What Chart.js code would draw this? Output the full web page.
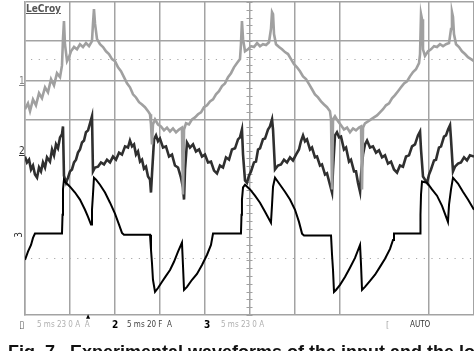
<!DOCTYPE html>
<html>
<head>
<meta charset="utf-8">
<script src="https://cdn.jsdelivr.net/npm/chart.js@4.4.1/dist/chart.umd.min.js"></script>
<style>
  html, body { margin: 0; padding: 0; background: #fff; overflow: hidden; }
  #wrap { position: relative; width: 474px; height: 351px; overflow: hidden; }
  #scope { position: absolute; left: 0; top: 0; }
  .t { position: absolute; white-space: pre; font-family: "DejaVu Sans Condensed", "Liberation Sans Narrow", "DejaVu Sans", sans-serif; line-height: 1; }
</style>
</head>
<body>
<div id="wrap">
  <canvas id="scope" width="474" height="351"></canvas>
  <div id="labels"></div>
</div>
<script>
// ======================
// SCOPE DATA (time in ms, level in divisions)
// ======================
const timeRange = [0, 50];      // 10 div x 5 ms
const levelRange = [0, 8];      // 8 vertical divisions
const groundLevels = [6.54, 1.46];

// channel 1 (light grey)
const ch1 = [
  [0,5.26],[0.33,5.41],[0.56,5.21],[0.89,5.51],[1.22,5.36],[1.56,5.67],[1.89,5.54],[2.23,5.82],[2.56,5.69],[2.90,6.03],
  [3.23,5.87],[3.56,6.18],[3.90,6.08],[4.12,6.38],[4.23,7.05],[4.34,7.51],[4.45,6.92],[4.68,6.49],[4.90,6.59],[5.12,6.74],
  [5.46,6.85],[5.79,6.79],[6.12,6.92],[6.46,6.85],[6.79,6.95],[7.13,6.87],[7.46,7.00],[7.57,7.44],[7.68,7.82],[7.80,7.44],
  [8.02,7.05],[8.35,6.92],[8.69,6.85],[9.02,6.74],[9.35,6.67],[9.69,6.54],[10.02,6.49],[10.36,6.33],[10.69,6.23],[11.02,6.08],
  [11.36,5.92],[11.69,5.82],[12.03,5.64],[12.36,5.56],[12.70,5.44],[13.03,5.38],[13.36,5.31],[13.70,5.21],[13.92,5.13],[14.03,4.87],
  [14.14,4.36],[14.25,4.87],[14.48,5.00],[14.81,4.87],[15.14,4.82],[15.48,4.72],[15.81,4.79],[16.15,4.69],[16.48,4.77],[16.82,4.67],
  [17.15,4.74],[17.48,4.79],[17.59,3.08],[17.71,4.74],[17.93,4.90],[18.26,4.87],[18.60,5.00],[18.93,5.05],[19.27,5.13],[19.60,5.18],
  [19.93,5.31],[20.27,5.36],[20.60,5.46],[20.94,5.51],[21.27,5.64],[21.60,5.72],[21.94,5.85],[22.27,5.92],[22.61,6.08],[22.94,6.18],
  [23.27,6.33],[23.61,6.44],[23.94,6.54],[24.05,6.92],[24.16,7.51],[24.28,7.05],[24.50,6.74],[24.83,6.79],[25.17,6.87],[25.50,6.85],
  [25.84,6.95],[26.17,6.87],[26.50,6.92],[26.84,6.90],[27.17,6.97],[27.39,7.31],[27.51,7.74],[27.62,7.69],[27.73,7.18],[27.95,6.92],
  [28.29,6.85],[28.62,6.79],[28.95,6.72],[29.29,6.67],[29.62,6.54],[29.96,6.41],[30.29,6.33],[30.62,6.23],[30.96,6.10],[31.29,6.03],
  [31.63,5.90],[31.96,5.77],[32.29,5.64],[32.63,5.56],[32.96,5.46],[33.30,5.38],[33.63,5.31],[33.96,5.21],[34.08,5.00],[34.19,3.21],
  [34.30,5.00],[34.52,5.08],[34.86,4.95],[35.19,4.85],[35.52,4.74],[35.86,4.79],[36.19,4.67],[36.53,4.77],[36.86,4.72],[37.19,4.79],
  [37.42,4.82],[37.53,3.21],[37.64,4.79],[37.86,4.90],[38.20,4.95],[38.53,5.00],[38.86,5.05],[39.20,5.10],[39.53,5.18],[39.87,5.26],
  [40.20,5.36],[40.54,5.41],[40.87,5.54],[41.20,5.62],[41.54,5.72],[41.87,5.82],[42.21,5.92],[42.54,5.97],[42.87,6.10],[43.21,6.21],
  [43.54,6.28],[43.88,6.44],[43.99,6.67],[44.10,7.69],[44.21,7.56],[44.32,6.79],[44.54,6.62],[44.88,6.74],[45.21,6.79],[45.55,6.87],
  [45.88,6.85],[46.21,6.92],[46.55,6.87],[46.88,6.92],[47.22,6.95],[47.44,7.31],[47.55,7.74],[47.66,7.62],[47.77,7.18],[48.00,6.92],
  [48.33,6.85],[48.66,6.74],[49.00,6.67],[49.33,6.59],[49.67,6.54],[50.00,6.49]
];

// channel 2 (dark grey)
const ch2 = [
  [0,4.05],[0.22,3.90],[0.45,3.97],[0.67,3.72],[0.89,3.82],[1.11,3.59],[1.34,3.51],[1.56,3.77],[1.78,3.67],[2.00,3.90],
  [2.23,3.77],[2.45,4.03],[2.78,3.92],[3.01,4.23],[3.23,4.08],[3.45,4.36],[3.67,4.26],[3.90,4.54],[4.12,4.62],[4.23,4.82],
  [4.34,3.56],[4.57,3.38],[4.79,3.51],[5.01,3.67],[5.23,3.72],[5.46,3.90],[5.68,3.97],[5.90,4.15],[6.12,4.23],[6.35,4.41],
  [6.57,4.46],[6.79,4.67],[7.02,4.72],[7.24,4.90],[7.46,5.08],[7.57,3.67],[7.80,3.77],[8.13,3.79],[8.46,3.90],[8.80,3.85],
  [9.13,3.97],[9.47,3.90],[9.80,4.05],[10.13,3.97],[10.47,4.15],[10.80,4.10],[11.14,4.31],[11.47,4.28],[11.69,4.46],[11.92,4.31],
  [12.14,4.36],[12.36,4.10],[12.58,4.18],[12.81,3.92],[13.03,3.97],[13.25,3.74],[13.47,3.79],[13.70,3.54],[13.92,3.46],[14.03,3.13],
  [14.14,3.59],[14.37,4.49],[14.59,4.59],[14.81,4.44],[15.03,4.51],[15.37,4.28],[15.70,4.31],[16.04,4.05],[16.37,4.10],[16.70,3.82],
  [17.04,3.77],[17.37,3.51],[17.59,3.26],[17.71,2.95],[17.82,3.72],[18.04,4.41],[18.37,4.28],[18.71,4.36],[19.04,4.18],[19.38,4.23],
  [19.71,4.05],[20.04,4.10],[20.38,3.90],[20.71,3.92],[21.05,3.69],[21.38,3.62],[21.71,3.82],[22.05,3.77],[22.38,4.03],[22.72,3.97],
  [23.05,4.23],[23.39,4.26],[23.72,4.49],[23.94,4.54],[24.16,4.74],[24.28,4.10],[24.50,3.44],[24.72,3.38],[24.94,3.56],[25.17,3.67],
  [25.50,3.90],[25.72,3.92],[25.95,4.23],[26.17,4.26],[26.50,4.49],[26.73,4.51],[27.06,4.74],[27.28,4.82],[27.51,5.00],[27.62,4.74],
  [27.84,3.72],[28.17,3.82],[28.51,3.85],[28.84,3.97],[29.18,3.90],[29.51,4.03],[29.84,3.95],[30.18,4.10],[30.51,4.23],[30.73,4.44],
  [30.96,4.59],[31.18,4.44],[31.40,4.49],[31.74,4.23],[31.96,4.28],[32.29,4.03],[32.52,4.05],[32.85,3.82],[33.07,3.85],[33.41,3.59],
  [33.63,3.62],[33.96,3.33],[34.19,3.13],[34.30,3.72],[34.52,4.59],[34.74,4.67],[34.97,4.54],[35.19,4.56],[35.52,4.23],[35.75,4.28],
  [36.08,3.92],[36.30,3.97],[36.64,3.67],[36.86,3.67],[37.08,3.38],[37.31,3.15],[37.42,3.59],[37.64,4.10],[37.86,4.36],[38.09,4.46],
  [38.42,4.28],[38.75,4.31],[39.09,4.15],[39.42,4.21],[39.76,4.03],[40.09,4.08],[40.42,3.87],[40.76,3.92],[41.09,3.72],[41.43,3.64],
  [41.76,3.82],[42.09,3.79],[42.43,4.05],[42.76,4.08],[43.10,4.31],[43.43,4.36],[43.76,4.59],[43.99,4.69],[44.10,4.23],[44.32,3.54],
  [44.54,3.46],[44.77,3.38],[44.99,3.59],[45.21,3.72],[45.55,3.95],[45.77,3.97],[46.10,4.28],[46.33,4.31],[46.66,4.56],[46.88,4.59],
  [47.11,4.74],[47.33,4.85],[47.44,4.49],[47.66,3.67],[47.88,3.79],[48.22,3.87],[48.55,3.90],[48.89,4.03],[49.22,3.95],[49.55,4.08],
  [50.00,4.05]
];

// channel 3 (black)
const ch3 = [
  [0,1.41],[0.33,1.62],[0.67,1.79],[0.89,1.97],[1.11,2.08],[4.12,2.08],[4.18,2.56],[4.23,3.21],[4.34,3.46],[4.57,3.38],
  [5.01,3.28],[5.57,3.13],[6.12,2.95],[6.68,2.69],[7.02,2.51],[7.35,2.31],[7.46,2.69],[7.57,3.08],[7.68,3.51],[7.91,3.46],
  [8.35,3.33],[8.91,3.13],[9.47,2.87],[10.02,2.59],[10.47,2.31],[10.80,2.10],[11.02,2.05],[13.92,2.05],[14.03,1.67],[14.14,1.33],
  [14.25,0.90],[14.48,0.59],[14.81,0.69],[15.26,0.85],[15.70,1.00],[16.15,1.15],[16.59,1.36],[17.04,1.62],[17.48,1.85],[17.59,1.28],
  [17.71,0.64],[18.04,0.72],[18.60,0.90],[19.15,1.05],[19.71,1.28],[20.27,1.54],[20.71,1.79],[20.94,2.08],[24.05,2.08],[24.11,2.56],
  [24.16,2.95],[24.28,3.26],[24.50,3.33],[25.06,3.21],[25.61,3.05],[26.17,2.87],[26.73,2.64],[27.39,2.36],[27.51,2.82],[27.62,3.28],
  [27.84,3.51],[28.40,3.33],[28.95,3.15],[29.51,2.95],[30.07,2.69],[30.51,2.38],[30.85,2.08],[31.07,2.03],[34.08,2.03],[34.19,1.54],
  [34.30,1.15],[34.41,0.59],[34.63,0.64],[35.08,0.77],[35.63,0.97],[36.19,1.21],[36.75,1.46],[37.31,1.79],[37.42,1.28],[37.53,0.64],
  [37.86,0.72],[38.42,0.87],[38.98,1.03],[39.53,1.23],[40.09,1.44],[40.65,1.69],[40.98,1.92],[41.09,2.08],[43.99,2.08],[44.04,2.56],
  [44.10,3.08],[44.21,3.41],[44.77,3.38],[45.32,3.21],[45.88,3.05],[46.44,2.79],[47.10,2.38],[47.22,2.82],[47.44,3.21],[47.66,3.51],
  [48.22,3.36],[48.77,3.15],[49.33,2.95],[50.00,2.69]
];

// status line + screen labels
const statusItems = [
  { text: "\u25AF", x: 19, color: "#555", size: 10 },
  { text: "5 ms 23 0 A  A", x: 37, color: "#b0b0b0", size: 8 },
  { text: "2", x: 112, color: "#000", size: 10, bold: true },
  { text: "5 ms 20 F  A", x: 127, color: "#444", size: 8 },
  { text: "3", x: 204, color: "#000", size: 10, bold: true },
  { text: "5 ms 23 0 A", x: 221, color: "#b0b0b0", size: 8 },
  { text: "[", x: 386, color: "#aaa", size: 9 },
  { text: "AUTO", x: 410, color: "#333", size: 8 }
];
const caption = "Fig. 7.  Experimental waveforms of the input and the load.";

// ======================
// GRATICULE EXTRAS
// ======================
const graticule = {
  id: "graticule",
  beforeDatasetsDraw(chart) {
    const { ctx, chartArea: a, scales: { x, y } } = chart;
    ctx.save();
    ctx.strokeStyle = "#a8a8a8";
    ctx.lineWidth = 1.2;
    ctx.setLineDash([1.2, 6.5]);
    groundLevels.forEach(v => {
      const py = Math.round(y.getPixelForValue(v)) + 0.5;
      ctx.beginPath(); ctx.moveTo(a.left + 6, py); ctx.lineTo(a.right, py); ctx.stroke();
    });
    ctx.setLineDash([]);
    // center line minor ticks
    const cx = x.getPixelForValue((timeRange[0] + timeRange[1]) / 2);
    ctx.strokeStyle = "#a0a0a0";
    ctx.lineWidth = 1;
    for (let v = levelRange[0]; v <= levelRange[1] + 1e-6; v += 0.2) {
      const py = Math.round(y.getPixelForValue(v)) + 0.5;
      ctx.beginPath(); ctx.moveTo(cx - 3, py); ctx.lineTo(cx + 3, py); ctx.stroke();
    }
    ctx.restore();
  }
};

const toPts = arr => arr.map(p => ({ x: p[0], y: p[1] }));
const gridGrey = "#a3a3a3";

new Chart(document.getElementById("scope"), {
  type: "line",
  data: {
    datasets: [
      { label: "3", data: toPts(ch3), borderColor: "#000", borderWidth: 2, order: 0 },
      { label: "1", data: toPts(ch1), borderColor: "#a0a0a0", borderWidth: 2.6, order: 1 },
      { label: "2", data: toPts(ch2), borderColor: "#2f2f2f", borderWidth: 2.6, order: 2 }
    ]
  },
  options: {
    responsive: false,
    devicePixelRatio: 1,
    animation: false,
    elements: { point: { radius: 0 }, line: { tension: 0 } },
    layout: { padding: { left: 25, top: 2, right: 0, bottom: 36 } },
    plugins: { legend: { display: false }, tooltip: { enabled: false } },
    scales: {
      x: {
        type: "linear", min: timeRange[0], max: timeRange[1],
        ticks: { display: false, stepSize: 5 },
        grid: {
          drawTicks: false, lineWidth: 1.5,
          color: c => (c.tick && c.tick.value === 40) ? "rgba(0,0,0,0)" : gridGrey
        },
        border: { color: gridGrey, width: 1.5 }
      },
      y: {
        min: levelRange[0], max: levelRange[1],
        ticks: { display: false, stepSize: 1 },
        grid: {
          drawTicks: false, lineWidth: 1.5,
          color: c => (c.tick && c.tick.value >= 5) ? gridGrey : "rgba(0,0,0,0)"
        },
        border: { color: gridGrey, width: 1.5 }
      }
    }
  },
  plugins: [graticule]
});

// ======================
// TEXT OVERLAYS
// ======================
const labels = document.getElementById("labels");
function addText(text, left, top, css) {
  const d = document.createElement("div");
  d.className = "t";
  d.textContent = text;
  d.style.left = left + "px";
  d.style.top = top + "px";
  Object.assign(d.style, css || {});
  labels.appendChild(d);
  return d;
}

addText("LeCroy", 26, 4, { fontSize: "10px", fontWeight: "bold", color: "#555", textDecoration: "underline" });
addText("1", 19, 76, { fontSize: "10px", color: "#888", textDecoration: "underline" });
addText("2", 19, 146, { fontSize: "10px", color: "#333", textDecoration: "underline" });
addText("3", 16, 230, { fontSize: "10px", color: "#333", transform: "rotate(-90deg)" });
addText("\u25B2", 86, 313, { fontSize: "6px", color: "#000" });

statusItems.forEach(s => {
  addText(s.text, s.x, s.size >= 10 ? 320 : 321, {
    fontSize: s.size + "px", color: s.color, fontWeight: s.bold ? "bold" : "normal"
  });
});

addText(caption, 8, 343, { fontFamily: "'Liberation Sans', Arial, sans-serif", fontSize: "18px", fontWeight: "bold", color: "#111" });
</script>
</body>
</html>
